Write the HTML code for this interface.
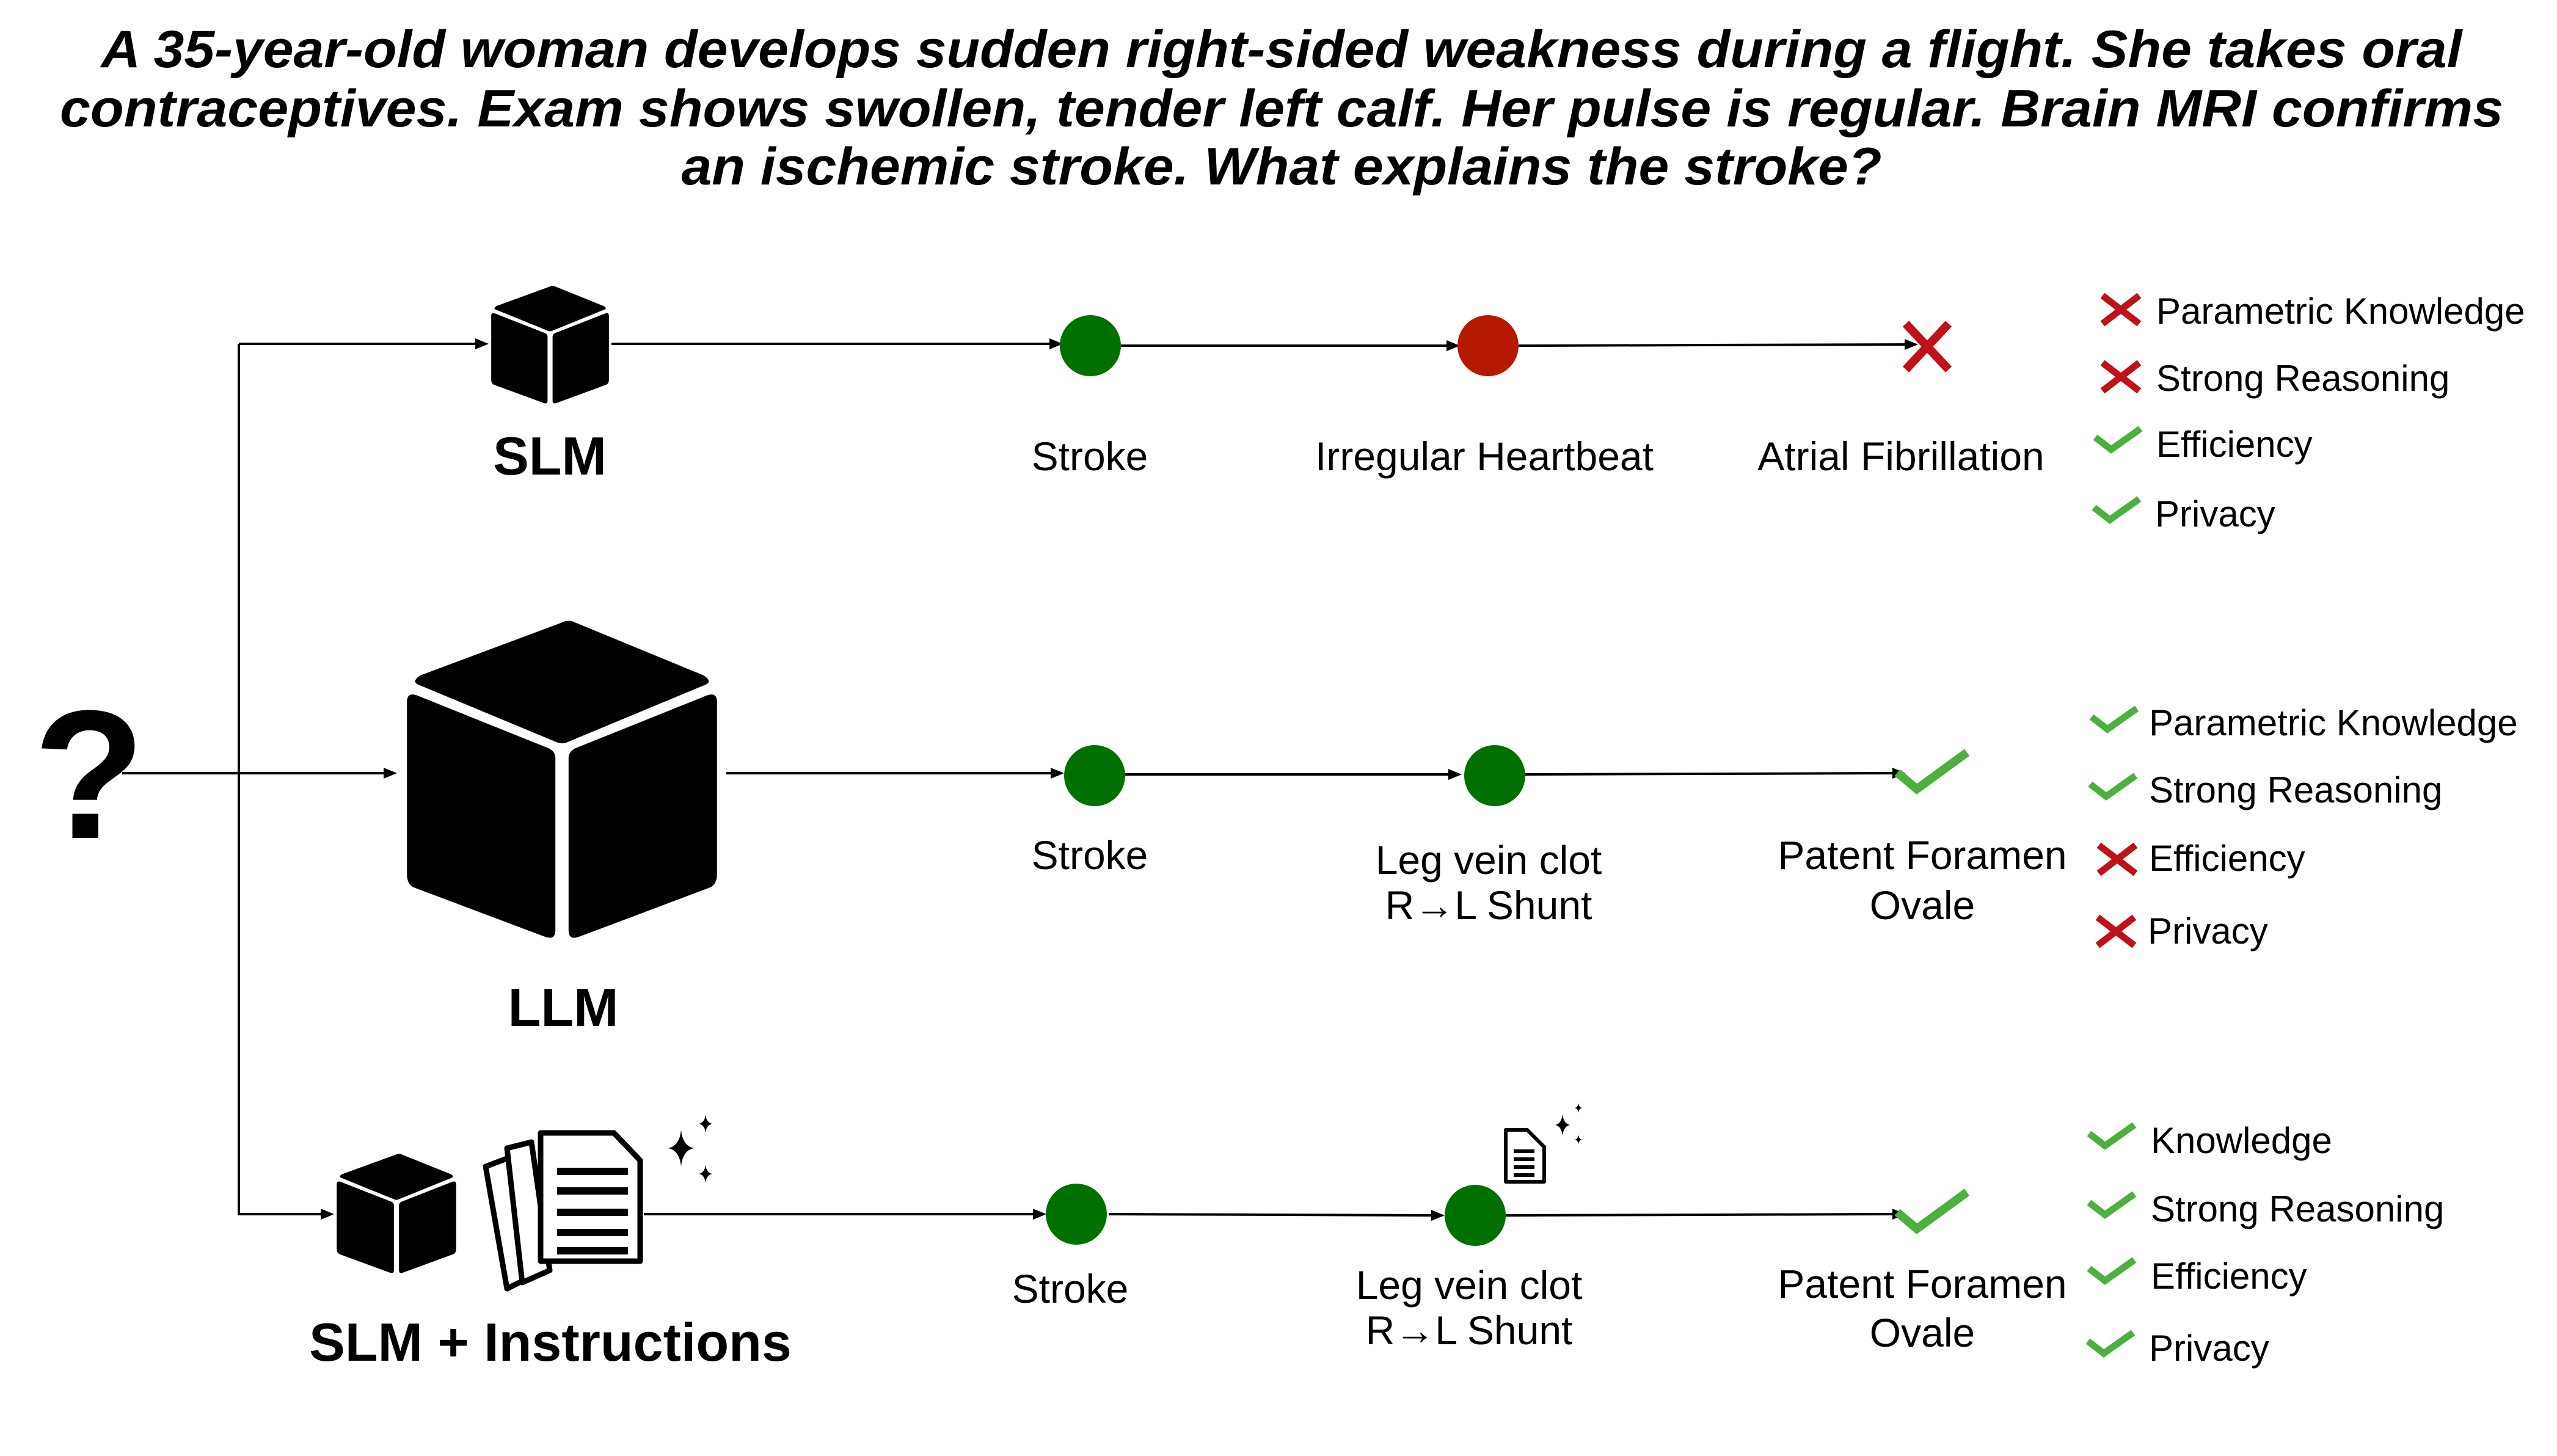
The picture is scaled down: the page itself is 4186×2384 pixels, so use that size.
<!DOCTYPE html>
<html><head><meta charset="utf-8"><style>html,body{margin:0;padding:0;background:#fff}svg{display:block}</style></head>
<body>
<svg width="4186" height="2384" viewBox="0 0 4186 2384" xmlns="http://www.w3.org/2000/svg" font-family="Liberation Sans, Arial, sans-serif">
<defs>
<path id="cube" d="M50,3 Q52,2 54,3 L93,19 Q96,21 93,22 L52,39 Q50,40 48,39 L7,22 Q4,21 7,19 Z M3,27 Q3,24 6,25 L46,41 Q48,42 48,44 L48,96 Q48,99 45,98 L5,83 Q3,82 3,79 Z M52,44 Q52,42 54,41 L94,25 Q97,24 97,27 L97,79 Q97,82 95,83 L55,98 Q52,99 52,96 Z"/>
<path id="chk" d="M2,18 L28,38 L76,4" fill="none" stroke="#4caf3e" stroke-width="11"/>
<path id="xx" d="M4,4 L64,50 M64,4 L4,50" fill="none" stroke="#c0101a" stroke-width="11"/>
<path id="spark" d="M0,-50 Q6,-6 50,0 Q6,6 0,50 Q-6,6 -50,0 Q-6,-6 0,-50Z"/>
</defs>
<g font-weight="bold" font-style="italic" font-size="86" text-anchor="middle">
<text x="2098" y="110" textLength="3865" lengthAdjust="spacingAndGlyphs">A 35-year-old woman develops sudden right-sided weakness during a flight. She takes oral</text>
<text x="2098" y="207" textLength="4000" lengthAdjust="spacingAndGlyphs">contraceptives. Exam shows swollen, tender left calf. Her pulse is regular. Brain MRI confirms</text>
<text x="2098" y="302" textLength="1965" lengthAdjust="spacingAndGlyphs">an ischemic stroke. What explains the stroke?</text>
</g>
<text x="146" y="1372" font-size="300" font-weight="bold" text-anchor="middle">?</text>
<g stroke="#000" stroke-width="4" fill="none">
<path d="M200,1266 L640,1266"/>
<path d="M391,563 L391,1988 L540,1988"/>
<path d="M391,563 L795,563"/>
<path d="M1001,563 L1730,563"/>
<path d="M1835,566 L2380,566"/>
<path d="M2486,566 L3130,564"/>
<path d="M1189,1266 L1730,1266"/>
<path d="M1840,1268 L2380,1268"/>
<path d="M2495,1268 L3100,1266"/>
<path d="M1054,1988 L1705,1988"/>
<path d="M1815,1988 L2356,1990"/>
<path d="M2465,1990 L3100,1988"/>
</g>
<g fill="#000">
<path d="M800,563 l-22,-9 v18z"/>
<path d="M650,1266 l-22,-9 v18z"/>
<path d="M547,1988 l-22,-9 v18z"/>
<path d="M1740,563 l-22,-9 v18z"/>
<path d="M2390,566 l-22,-9 v18z"/>
<path d="M3140,564 l-22,-9 v18z"/>
<path d="M1742,1266 l-22,-9 v18z"/>
<path d="M2393,1268 l-22,-9 v18z"/>
<path d="M3120,1266 l-22,-9 v18z"/>
<path d="M1713,1988 l-22,-9 v18z"/>
<path d="M2365,1990 l-22,-9 v18z"/>
<path d="M3120,1988 l-22,-9 v18z"/>
</g>
<use href="#cube" transform="translate(798,463) scale(2.05,2.01)"/>
<use href="#cube" transform="translate(650,1003) scale(5.4,5.42)"/>
<use href="#cube" transform="translate(545,1884) scale(2.08,2.04)"/>
<g stroke="#000" stroke-width="9" fill="#fff" stroke-linejoin="round">
<path d="M795,1910 L835,1895 L870,2090 L830,2110 Z"/>
<path d="M830,1880 L870,1870 L900,2080 L855,2100 Z"/>
<path d="M885,1855 L1005,1855 L1048,1900 L1048,2065 L885,2065 Z"/>
</g>
<g stroke="#000" stroke-width="12">
<path d="M912,1918 H1028 M912,1950 H1028 M912,1985 H1028 M912,2018 H1028 M912,2048 H1028"/>
</g>
<use href="#spark" fill="#000" transform="translate(1115,1880) scale(0.42,0.6)"/>
<use href="#spark" fill="#000" transform="translate(1155,1840) scale(0.22,0.3)"/>
<use href="#spark" fill="#000" transform="translate(1155,1922) scale(0.22,0.3)"/>
<g stroke="#000" stroke-width="6" fill="#fff" stroke-linejoin="round">
<path d="M2465,1850 L2500,1850 L2528,1878 L2528,1935 L2465,1935 Z"/>
</g>
<g stroke="#000" stroke-width="6"><path d="M2478,1885 H2512 M2478,1898 H2512 M2478,1911 H2512 M2478,1924 H2512"/></g>
<use href="#spark" fill="#000" transform="translate(2558,1842) scale(0.24,0.36)"/>
<use href="#spark" fill="#000" transform="translate(2584,1814) scale(0.12,0.16)"/>
<use href="#spark" fill="#000" transform="translate(2584,1866) scale(0.12,0.16)"/>
<g font-weight="bold" font-size="88" text-anchor="middle">
<text x="900" y="777">SLM</text>
<text x="922" y="1680">LLM</text>
<text x="901" y="2228">SLM + Instructions</text>
</g>
<circle cx="1785" cy="566" r="50" fill="#007000"/>
<circle cx="2436" cy="566" r="50" fill="#b51900"/>
<circle cx="1792" cy="1270" r="50" fill="#007000"/>
<circle cx="2447" cy="1270" r="50" fill="#007000"/>
<circle cx="1762" cy="1988" r="50" fill="#007000"/>
<circle cx="2415" cy="1990" r="50" fill="#007000"/>
<path d="M3120,530 L3190,605 M3190,530 L3120,605" stroke="#c0101a" stroke-width="14"/>
<path d="M3106,1265 L3138,1292 L3220,1232" stroke="#4caf3e" stroke-width="14" fill="none"/>
<path d="M3106,1985 L3138,2012 L3220,1952" stroke="#4caf3e" stroke-width="14" fill="none"/>
<g font-size="66" text-anchor="middle">
<text x="1784" y="770">Stroke</text>
<text x="2430" y="770">Irregular Heartbeat</text>
<text x="3112" y="770">Atrial Fibrillation</text>
<text x="1784" y="1423">Stroke</text>
<text x="2437" y="1431">Leg vein clot</text>
<text x="2437" y="1505">R→L Shunt</text>
<text x="3147" y="1423">Patent Foramen</text>
<text x="3147" y="1505">Ovale</text>
<text x="1752" y="2133">Stroke</text>
<text x="2405" y="2127">Leg vein clot</text>
<text x="2405" y="2201">R→L Shunt</text>
<text x="3147" y="2125">Patent Foramen</text>
<text x="3147" y="2205">Ovale</text>
</g>
<g font-size="60">
<use href="#xx" transform="translate(3438,480)"/><text x="3530" y="530">Parametric Knowledge</text>
<use href="#xx" transform="translate(3438,590)"/><text x="3530" y="640">Strong Reasoning</text>
<use href="#chk" transform="translate(3428,698)"/><text x="3530" y="748">Efficiency</text>
<use href="#chk" transform="translate(3426,813)"/><text x="3528" y="862">Privacy</text>

<use href="#chk" transform="translate(3422,1156)"/><text x="3518" y="1204">Parametric Knowledge</text>
<use href="#chk" transform="translate(3420,1266)"/><text x="3518" y="1314">Strong Reasoning</text>
<use href="#xx" transform="translate(3432,1380)"/><text x="3518" y="1426">Efficiency</text>
<use href="#xx" transform="translate(3430,1498)"/><text x="3516" y="1545">Privacy</text>

<use href="#chk" transform="translate(3418,1838)"/><text x="3521" y="1888">Knowledge</text>
<use href="#chk" transform="translate(3418,1951)"/><text x="3521" y="2000">Strong Reasoning</text>
<use href="#chk" transform="translate(3418,2059)"/><text x="3521" y="2110">Efficiency</text>
<use href="#chk" transform="translate(3416,2178)"/><text x="3518" y="2228">Privacy</text>
</g>
</svg>
</body></html>
